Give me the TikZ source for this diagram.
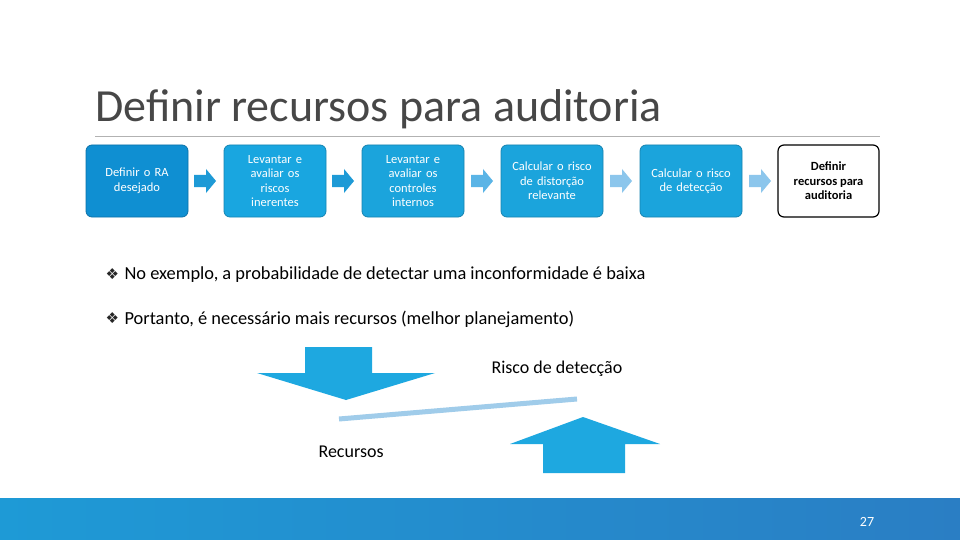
\documentclass[tikz,border=0pt]{standalone}
\usepackage{fontspec}
\setmainfont{Carlito}
\newfontfamily\djv{DejaVu Sans}
\begin{document}
\begin{tikzpicture}[x=1pt,y=-1pt,
  box/.style={rounded corners=6pt,fill=#1,draw=#1!80!black,line width=0.8pt,text=white,font=\fontsize{12.5}{14.5}\selectfont,align=center,text width=90pt}]
\useasboundingbox (0,0) rectangle (960,540);
\fill[white] (0,0) rectangle (960,540);
\node[anchor=base west,font=\fontsize{46}{46}\selectfont,text=black!72,inner sep=0] (title) at (95,122) {Definir recursos para auditoria};
\draw[black!30,line width=0.8pt] (95,136) coordinate (l1) -- (880,136) coordinate (l2);
\foreach \n/\x/\c/\t in {b1/137/0F8FD2/{Definir o RA\\desejado},b2/275/19A6E0/{Levantar e\\avaliar os\\riscos\\inerentes},b3/413/1BA4DC/{Levantar e\\avaliar os\\controles\\internos},b4/552/1BA4DC/{Calcular o risco\\de distorção\\relevante},b5/691/1BA4DC/{Calcular o risco\\de detecção}}{
  \definecolor{bc}{HTML}{\c}
  \node[box=bc,minimum width=102pt,minimum height=72pt] (\n) at (\x,181) {\t};
}
\node[rounded corners=6pt,draw=black,line width=1.2pt,fill=white,minimum width=101pt,minimum height=72pt,font=\bfseries\fontsize{12.5}{14.5}\selectfont,align=center] (b6) at (828.5,181) {Definir\\recursos para\\auditoria};
\definecolor{a1}{HTML}{1E9AD6}\definecolor{a2}{HTML}{5AB4E6}\definecolor{a3}{HTML}{8CC6EC}
\foreach \x/\c in {205/a1,343/a1,482/a2,621/a3,760/a3}{
  \fill[\c] (\x-11,175) -- (\x+1,175) -- (\x+1,169) -- (\x+11,181) -- (\x+1,193) -- (\x+1,187) -- (\x-11,187) -- cycle;
}
\node[anchor=west,font=\fontsize{15}{15}\selectfont\djv,text=black!85] (m1) at (102,274) {❖};
\node[anchor=west,font=\fontsize{15}{15}\selectfont\djv,text=black!85] (m2) at (102,318) {❖};
\node[anchor=west,font=\fontsize{18.4}{18.4}\selectfont] (p1) at (121,275) {No exemplo, a probabilidade de detectar uma inconformidade é baixa};
\node[anchor=west,font=\fontsize{18.4}{18.4}\selectfont] (p2) at (121,319) {Portanto, é necessário mais recursos (melhor planejamento)};
\definecolor{ab}{HTML}{1EA8E0}
\fill[ab] (305,347) -- (372,347) -- (372,373) -- (435,373) -- (346,400) -- (257,373) -- (305,373) -- cycle;
\fill[ab] (543,473) -- (625,473) -- (625,444) -- (660,444) -- (583,417) -- (510,444) -- (543,444) -- cycle;
\coordinate (s1) at (339,419); \coordinate (s2) at (577,399);
\draw[color={rgb,255:red,160;green,204;blue,234},line width=5pt] (s1) -- (s2);
\node[anchor=west,font=\fontsize{18}{18}\selectfont] (rd) at (488,369) {Risco de detecção};
\node[anchor=west,font=\fontsize{18}{18}\selectfont] (rc) at (315,452) {Recursos};
\definecolor{f1}{HTML}{1E9AD6}\definecolor{f2}{HTML}{2A7EC4}
\shade[left color=f1,right color=f2] (0,498) rectangle (960,540);
\node[text=white,font=\fontsize{14}{14}\selectfont] (pg) at (867,522) {27};
\end{tikzpicture}
\end{document}
